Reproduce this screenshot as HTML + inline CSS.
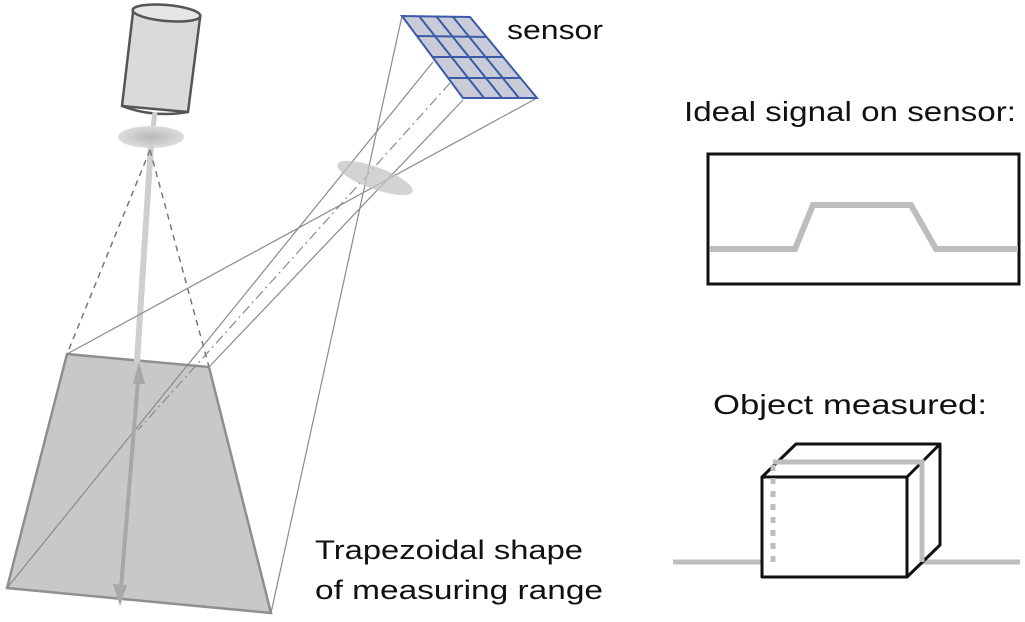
<!DOCTYPE html>
<html><head><meta charset="utf-8"><style>
html,body{margin:0;padding:0;background:#fff;width:1025px;height:622px;overflow:hidden}
svg text{font-family:"Liberation Sans",sans-serif;fill:#111}
</style></head><body>
<svg width="1025" height="622" viewBox="0 0 1025 622" xmlns="http://www.w3.org/2000/svg">
<defs>
<radialGradient id="lg" cx="50%" cy="50%" r="50%"><stop offset="0" stop-color="#b8b8b8"/><stop offset="1" stop-color="#dcdcdc"/></radialGradient>
</defs>
<!-- trapezoid -->
<polygon points="67,354 209,367 271,613 7,588" fill="#c8c8c8" stroke="#8f8f8f" stroke-width="2.5"/>
<!-- cylinder -->
<polygon points="133,12 200,18 188,112 122,106" fill="#dadada" stroke="#555" stroke-width="2.5" stroke-linejoin="round"/>
<ellipse cx="166.5" cy="13" rx="34" ry="8" transform="rotate(5 166.5 13)" fill="#e6e6e6" stroke="#555" stroke-width="2.5"/>
<path d="M122,106 Q154,118 188,112" fill="none" stroke="#555" stroke-width="2.5"/>
<line x1="155" y1="112" x2="153" y2="128" stroke="#ccc" stroke-width="5"/>
<!-- lens 1 -->
<ellipse cx="151" cy="137" rx="33" ry="11" fill="url(#lg)"/>
<!-- light beam -->
<line x1="151" y1="145" x2="137" y2="362" stroke="#cfcfcf" stroke-width="6"/>
<!-- dashed -->
<line x1="150" y1="150" x2="67" y2="354" stroke="#777" stroke-width="1.5" stroke-dasharray="6,5"/>
<line x1="150" y1="150" x2="209" y2="367" stroke="#777" stroke-width="1.5" stroke-dasharray="6,5"/>
<!-- sensor rays -->
<g stroke="#8a8a8a" stroke-width="1.2" fill="none">
<line x1="402" y1="16" x2="271" y2="613"/>
<line x1="463" y1="100" x2="209" y2="367"/>
<line x1="537" y1="98" x2="67" y2="354"/>
<line x1="433" y1="62" x2="7" y2="588"/>
<line x1="450" y1="83" x2="138" y2="430" stroke-dasharray="10,4,2,4"/>
</g>
<!-- lens 2 -->
<ellipse cx="375" cy="178" rx="40" ry="11" transform="rotate(20 375 178)" fill="#c4c4c4" opacity="0.75"/>
<!-- arrow -->
<line x1="138" y1="380" x2="121" y2="588" stroke="#a8a8a8" stroke-width="4"/>
<polygon points="139,362 133,384 145,384" fill="#a8a8a8"/>
<polygon points="120,606 113,584 127,585" fill="#a8a8a8"/>
<!-- sensor grid -->
<polygon points="402,16 470,17 537,98 463,98" fill="#c9ccd8" stroke="#3b5aa8" stroke-width="2"/>
<g stroke="#3b5aa8" stroke-width="2">
<line x1="419" y1="16" x2="484" y2="98"/>
<line x1="436" y1="16" x2="502" y2="98"/>
<line x1="453" y1="17" x2="519" y2="98"/>
<line x1="417" y1="36" x2="487" y2="37"/>
<line x1="432" y1="57" x2="504" y2="57"/>
<line x1="448" y1="78" x2="520" y2="78"/>
</g>
<text x="507" y="39" font-size="27" textLength="96" lengthAdjust="spacingAndGlyphs">sensor</text>
<!-- label -->
<text x="315" y="559" font-size="27" textLength="268" lengthAdjust="spacingAndGlyphs">Trapezoidal shape</text>
<text x="315" y="599" font-size="27" textLength="288" lengthAdjust="spacingAndGlyphs">of measuring range</text>
<!-- ideal signal -->
<text x="684" y="121" font-size="28" textLength="332" lengthAdjust="spacingAndGlyphs">Ideal signal on sensor:</text>
<rect x="708" y="154" width="311" height="130" fill="none" stroke="#111" stroke-width="3"/>
<polyline points="710,249 795,249 813,205 911,205 936,249 1018,249" fill="none" stroke="#bdbdbd" stroke-width="6"/>
<!-- object -->
<text x="713" y="414" font-size="28" textLength="274" lengthAdjust="spacingAndGlyphs">Object measured:</text>
<g stroke="#bdbdbd" stroke-width="5" fill="none">
<line x1="673" y1="562" x2="770" y2="562"/>
<line x1="922" y1="562" x2="1020" y2="562"/>
</g>
<g fill="#fff" stroke="#111" stroke-width="3" stroke-linejoin="round">
<polygon points="762,477 796,444 940,444 940,545 907,577 907,477"/>
<rect x="762" y="477" width="145" height="100"/>
<line x1="907" y1="477" x2="940" y2="444"/>
</g>
<g stroke="#bdbdbd" stroke-width="5" fill="none">
<polyline points="773,462 922,462 922,562"/>
<line x1="773" y1="465" x2="773" y2="562" stroke-dasharray="6,7"/>
</g>
</svg>
</body></html>
